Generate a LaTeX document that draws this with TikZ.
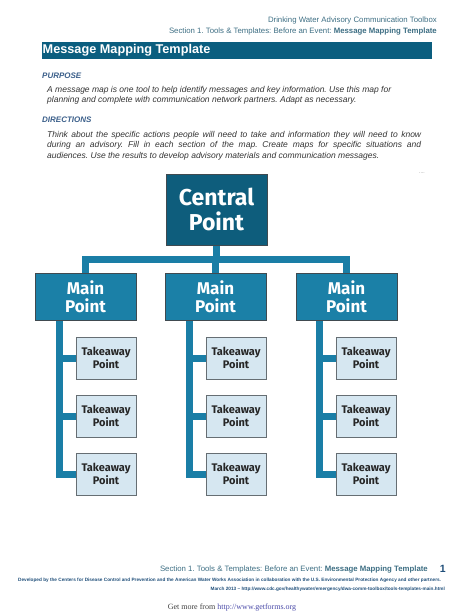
\documentclass[tikz,border=0pt]{standalone}
\usepackage{fontspec}
\setmainfont{Liberation Sans}
\newfontfamily\boxfont{Fira Sans}
\newfontfamily\serifft{Liberation Serif}
\frenchspacing
\definecolor{hdr}{HTML}{3D6E83}
\definecolor{titlebar}{HTML}{0B5E7F}
\definecolor{head}{HTML}{3B5F8A}
\definecolor{central}{HTML}{0E5D7C}
\definecolor{mainc}{HTML}{1B80A7}
\definecolor{conn}{HTML}{1A7EA6}
\definecolor{take}{HTML}{D6E7F1}
\definecolor{boxline}{HTML}{404A50}
\definecolor{foot}{HTML}{1F4E79}
\definecolor{url}{HTML}{4A4AA8}
\begin{document}
\begin{tikzpicture}[x=1pt,y=-1pt,
  centralbox/.style={draw=boxline,line width=0.8pt,fill=central,text=white,minimum width=101pt,minimum height=71pt,inner sep=0pt,align=center,font=\boxfont\bfseries\fontsize{23}{25}\selectfont},
  mainbox/.style={draw=boxline,line width=0.8pt,fill=mainc,text=white,minimum width=101pt,minimum height=47pt,inner sep=0pt,align=center,font=\boxfont\bfseries\fontsize{17}{18.5}\selectfont},
  takebox/.style={draw=boxline!80,line width=0.8pt,fill=take,text=black!85,minimum width=60pt,minimum height=42pt,inner sep=0pt,align=center,font=\boxfont\bfseries\fontsize{11}{12.5}\selectfont},
  link/.style={draw=conn,line width=7pt,line join=miter},
  hdrtext/.style={inner sep=0pt,text=hdr,font=\fontsize{7.8}{9}\selectfont},
  headtext/.style={inner sep=0pt,anchor=base west,text=head,font=\bfseries\itshape\fontsize{8}{9}\selectfont},
  bodytext/.style={inner sep=0pt,anchor=base west,text=black!80,font=\itshape\fontsize{8.5}{10.5}\selectfont\frenchspacing},
  foottext/.style={inner sep=0pt,text=foot,font=\bfseries\fontsize{4.7}{5.5}\selectfont}
]
\useasboundingbox (0,0) rectangle (474,613);
% header
\node[hdrtext,anchor=base east] (h1) at (437,23) {Drinking Water Advisory Communication Toolbox};
\node[hdrtext,anchor=base east] (h2) at (437,33) {Section 1. Tools \& Templates: Before an Event: \textbf{Message Mapping Template}};
% title bar
\node[fill=titlebar,minimum width=390pt,minimum height=17pt,inner sep=0pt,anchor=north west] (tb) at (42,42) {};
\node[inner sep=0pt,anchor=west,text=white,font=\bfseries\fontsize{12.7}{14}\selectfont] (tt) at (42.5,50.5) {Message Mapping Template};
% purpose
\node[headtext] (pur) at (42,78) {PURPOSE};
\node[bodytext] (p1) at (47,92) {A message map is one tool to help identify messages and key information. Use this map for};
\node[bodytext] (p2) at (47,102) {planning and complete with communication network partners. Adapt as necessary.};
\node[headtext] (dir) at (42,122) {DIRECTIONS};
\node[bodytext] (d1) at (47,137) {\makebox[374pt][s]{Think about the specific actions people will need to take and information they will need to know}};
\node[bodytext] (d2) at (47,147.5) {\makebox[374pt][s]{during an advisory. Fill in each section of the map. Create maps for specific situations and}};
\node[bodytext] (d3) at (47,158) {audiences. Use the results to develop advisory materials and communication messages.};
\node[inner sep=0pt,text=black!50,font=\fontsize{5}{6}\selectfont] (dots) at (422,173) {....};
% connector anchors
\coordinate (bar) at (0,259.5);
\coordinate (k1) at (59,320.4);
\coordinate (k2) at (189,320.4);
\coordinate (k3) at (319,320.4);
% boxes (placed first to get anchors)
\node[centralbox] (c) at (216.5,209.5) {Central\\Point};
\node[mainbox] (m1) at (85.5,296.5) {Main\\Point};
\node[mainbox] (m2) at (215.5,296.5) {Main\\Point};
\node[mainbox] (m3) at (346.5,296.5) {Main\\Point};
\foreach \i/\x in {1/106,2/236,3/366}{
  \node[takebox] (t\i1) at (\x,358) {Takeaway\\Point};
  \node[takebox] (t\i2) at (\x,416) {Takeaway\\Point};
  \node[takebox] (t\i3) at (\x,474) {Takeaway\\Point};
}
% connectors
\path[link] (m1.north) -- (m1.north |- bar) -- (m3.north |- bar) -- (m3.north);
\path[link] (c.south) -- (c.south |- bar);
\path[link] (m2.north) -- (m2.north |- bar);
\foreach \i in {1,2,3}{
  \path[link] (k\i) |- (t\i3.west);
  \path[link] (k\i |- t\i1.west) -- (t\i1.west);
  \path[link] (k\i |- t\i2.west) -- (t\i2.west);
}
% boxes again on top of the connectors
\node[centralbox] at (c) {Central\\Point};
\foreach \i in {1,2,3}{
  \node[mainbox] at (m\i) {Main\\Point};
  \node[takebox] at (t\i1) {Takeaway\\Point};
  \node[takebox] at (t\i2) {Takeaway\\Point};
  \node[takebox] at (t\i3) {Takeaway\\Point};
}
% footer
\node[hdrtext,anchor=base east] (f1) at (428,571) {Section 1. Tools \& Templates: Before an Event: \textbf{Message Mapping Template}};
\node[inner sep=0pt,anchor=base east,text=foot,font=\bfseries\fontsize{10.5}{12}\selectfont] (pg) at (446,572) {1};
\node[foottext,anchor=base west] (f2) at (18,581.5) {Developed by the Centers for Disease Control and Prevention and the American Water Works Association in collaboration with the U.S. Environmental Protection Agency and other partners.};
\node[foottext,anchor=base east] (f3) at (445,590.5) {March 2013 -- http://www.cdc.gov/healthywater/emergency/dwa-comm-toolbox/tools-templates-main.html};
\node[inner sep=0pt,anchor=base,text=black!75,font=\serifft\fontsize{8}{9}\selectfont] (gm) at (232,609.5) {Get more from \textcolor{url}{http://www.getforms.org}};
\end{tikzpicture}
\end{document}
